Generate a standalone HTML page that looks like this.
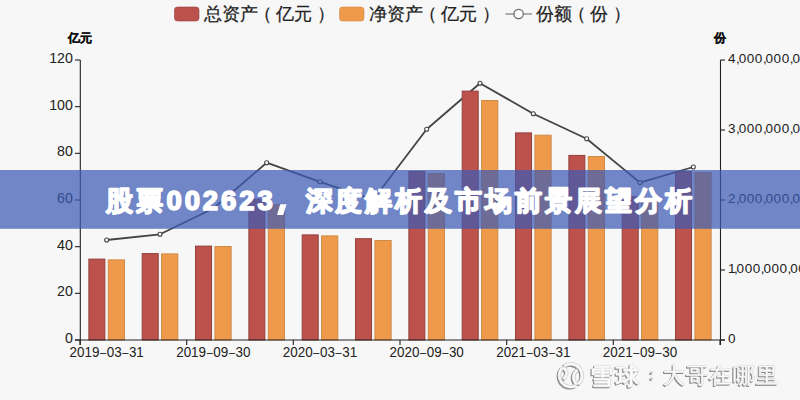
<!DOCTYPE html>
<html><head><meta charset="utf-8"><style>
html,body{margin:0;padding:0;width:800px;height:400px;overflow:hidden;background:#f7f7f7;}
svg{display:block;font-family:"Liberation Sans",sans-serif;}
</style></head><body>
<svg width="800" height="400" viewBox="0 0 800 400">
<rect x="0" y="0" width="800" height="400" fill="#f7f7f7"/>

<rect x="174.5" y="7" width="24.5" height="14" rx="3" fill="#bd524d" stroke="#94403c" stroke-width="0.6"/>
<g font-size="18" fill="#222" stroke="#222" stroke-width="0.25">
<text x="204" y="19.8">总资产<tspan dx="-4">（</tspan><tspan dx="4">亿元</tspan><tspan dx="4.5">）</tspan></text>
</g>
<rect x="339.5" y="7" width="24.5" height="14" rx="3" fill="#ef994a" stroke="#cf8a48" stroke-width="0.6"/>
<g font-size="18" fill="#222" stroke="#222" stroke-width="0.25">
<text x="369" y="19.8">净资产<tspan dx="-4">（</tspan><tspan dx="4">亿元</tspan><tspan dx="4.5">）</tspan></text>
<text x="536" y="19.8">份额<tspan dx="-4">（</tspan><tspan dx="4">份</tspan><tspan dx="4.5">）</tspan></text>
</g>
<line x1="505.5" y1="14" x2="532" y2="14" stroke="#9a9a9a" stroke-width="1.6"/>
<circle cx="518.6" cy="14" r="4.7" fill="#fff" stroke="#666" stroke-width="1.2"/>
<text x="68" y="42.3" font-size="12" font-weight="bold" fill="#111" stroke="#111" stroke-width="0.35">亿元</text>
<text x="714" y="42.3" font-size="12" font-weight="bold" fill="#111" stroke="#111" stroke-width="0.35">份</text>
<polyline points="106.67,240 160.00,234.3 213.33,208.5 266.67,162.7 320.00,181.8 373.33,199.5 426.67,129.3 480.00,83.2 533.33,113.75 586.67,138.75 640.00,182.6 693.33,167" fill="none" stroke="#444" stroke-width="1.8" stroke-linejoin="round"/>
<circle cx="106.67" cy="240" r="2" fill="#fff" stroke="#444" stroke-width="1.1"/>
<circle cx="160.00" cy="234.3" r="2" fill="#fff" stroke="#444" stroke-width="1.1"/>
<circle cx="213.33" cy="208.5" r="2" fill="#fff" stroke="#444" stroke-width="1.1"/>
<circle cx="266.67" cy="162.7" r="2" fill="#fff" stroke="#444" stroke-width="1.1"/>
<circle cx="320.00" cy="181.8" r="2" fill="#fff" stroke="#444" stroke-width="1.1"/>
<circle cx="373.33" cy="199.5" r="2" fill="#fff" stroke="#444" stroke-width="1.1"/>
<circle cx="426.67" cy="129.3" r="2" fill="#fff" stroke="#444" stroke-width="1.1"/>
<circle cx="480.00" cy="83.2" r="2" fill="#fff" stroke="#444" stroke-width="1.1"/>
<circle cx="533.33" cy="113.75" r="2" fill="#fff" stroke="#444" stroke-width="1.1"/>
<circle cx="586.67" cy="138.75" r="2" fill="#fff" stroke="#444" stroke-width="1.1"/>
<circle cx="640.00" cy="182.6" r="2" fill="#fff" stroke="#444" stroke-width="1.1"/>
<circle cx="693.33" cy="167" r="2" fill="#fff" stroke="#444" stroke-width="1.1"/>
<rect x="88.87" y="259.10" width="16" height="80.90" fill="#bd524d" stroke="#94403c" stroke-width="1"/>
<rect x="108.27" y="259.90" width="16.2" height="80.10" fill="#ef994a" stroke="#cf8a48" stroke-width="1"/>
<rect x="142.20" y="253.60" width="16" height="86.40" fill="#bd524d" stroke="#94403c" stroke-width="1"/>
<rect x="161.60" y="253.90" width="16.2" height="86.10" fill="#ef994a" stroke="#cf8a48" stroke-width="1"/>
<rect x="195.53" y="246.10" width="16" height="93.90" fill="#bd524d" stroke="#94403c" stroke-width="1"/>
<rect x="214.93" y="246.50" width="16.2" height="93.50" fill="#ef994a" stroke="#cf8a48" stroke-width="1"/>
<rect x="248.87" y="199.25" width="16" height="140.75" fill="#bd524d" stroke="#94403c" stroke-width="1"/>
<rect x="268.27" y="204.50" width="16.2" height="135.50" fill="#ef994a" stroke="#cf8a48" stroke-width="1"/>
<rect x="302.20" y="234.90" width="16" height="105.10" fill="#bd524d" stroke="#94403c" stroke-width="1"/>
<rect x="321.60" y="235.90" width="16.2" height="104.10" fill="#ef994a" stroke="#cf8a48" stroke-width="1"/>
<rect x="355.53" y="238.70" width="16" height="101.30" fill="#bd524d" stroke="#94403c" stroke-width="1"/>
<rect x="374.93" y="240.50" width="16.2" height="99.50" fill="#ef994a" stroke="#cf8a48" stroke-width="1"/>
<rect x="408.87" y="171.40" width="16" height="168.60" fill="#bd524d" stroke="#94403c" stroke-width="1"/>
<rect x="428.27" y="173.60" width="16.2" height="166.40" fill="#ef994a" stroke="#cf8a48" stroke-width="1"/>
<rect x="462.20" y="91.10" width="16" height="248.90" fill="#bd524d" stroke="#94403c" stroke-width="1"/>
<rect x="481.60" y="100.50" width="16.2" height="239.50" fill="#ef994a" stroke="#cf8a48" stroke-width="1"/>
<rect x="515.53" y="132.90" width="16" height="207.10" fill="#bd524d" stroke="#94403c" stroke-width="1"/>
<rect x="534.93" y="135.20" width="16.2" height="204.80" fill="#ef994a" stroke="#cf8a48" stroke-width="1"/>
<rect x="568.87" y="155.40" width="16" height="184.60" fill="#bd524d" stroke="#94403c" stroke-width="1"/>
<rect x="588.27" y="156.50" width="16.2" height="183.50" fill="#ef994a" stroke="#cf8a48" stroke-width="1"/>
<rect x="622.20" y="196.80" width="16" height="143.20" fill="#bd524d" stroke="#94403c" stroke-width="1"/>
<rect x="641.60" y="200.00" width="16.2" height="140.00" fill="#ef994a" stroke="#cf8a48" stroke-width="1"/>
<rect x="675.53" y="171.60" width="16" height="168.40" fill="#bd524d" stroke="#94403c" stroke-width="1"/>
<rect x="694.93" y="172.50" width="16.2" height="167.50" fill="#ef994a" stroke="#cf8a48" stroke-width="1"/>
<g stroke="#222" stroke-width="1.1" fill="none">
<line x1="80.3" y1="60" x2="80.3" y2="345"/>
<line x1="720.5" y1="60" x2="720.5" y2="345"/>
<line x1="75" y1="340" x2="725" y2="340"/>
<line x1="75" y1="60.00" x2="80.3" y2="60.00"/>
<line x1="75" y1="106.67" x2="80.3" y2="106.67"/>
<line x1="75" y1="153.33" x2="80.3" y2="153.33"/>
<line x1="75" y1="200.00" x2="80.3" y2="200.00"/>
<line x1="75" y1="246.67" x2="80.3" y2="246.67"/>
<line x1="75" y1="293.33" x2="80.3" y2="293.33"/>
<line x1="75" y1="340.00" x2="80.3" y2="340.00"/>
<line x1="720.5" y1="60.00" x2="725" y2="60.00"/>
<line x1="720.5" y1="130.00" x2="725" y2="130.00"/>
<line x1="720.5" y1="200.00" x2="725" y2="200.00"/>
<line x1="720.5" y1="270.00" x2="725" y2="270.00"/>
<line x1="720.5" y1="340.00" x2="725" y2="340.00"/>
<line x1="80.00" y1="340" x2="80.00" y2="345"/>
<line x1="186.67" y1="340" x2="186.67" y2="345"/>
<line x1="293.33" y1="340" x2="293.33" y2="345"/>
<line x1="400.00" y1="340" x2="400.00" y2="345"/>
<line x1="506.67" y1="340" x2="506.67" y2="345"/>
<line x1="613.33" y1="340" x2="613.33" y2="345"/>
<line x1="720.00" y1="340" x2="720.00" y2="345"/>
</g>
<g font-size="14.2" fill="#222" text-anchor="end">
<text x="72.8" y="63.10">120</text>
<text x="72.8" y="109.77">100</text>
<text x="72.8" y="156.43">80</text>
<text x="72.8" y="203.10">60</text>
<text x="72.8" y="249.77">40</text>
<text x="72.8" y="296.43">20</text>
<text x="72.8" y="343.10">0</text>
</g>
<g font-size="13.5" fill="#222">
<text x="728" y="62.60" letter-spacing="0.55">4<tspan letter-spacing="-1.1">,</tspan>000<tspan letter-spacing="-1.1">,</tspan>000<tspan letter-spacing="-1.1">,</tspan>000</text>
<text x="728" y="132.60" letter-spacing="0.55">3<tspan letter-spacing="-1.1">,</tspan>000<tspan letter-spacing="-1.1">,</tspan>000<tspan letter-spacing="-1.1">,</tspan>000</text>
<text x="728" y="202.60" letter-spacing="0.55">2<tspan letter-spacing="-1.1">,</tspan>000<tspan letter-spacing="-1.1">,</tspan>000<tspan letter-spacing="-1.1">,</tspan>000</text>
<text x="728" y="272.60" letter-spacing="0.55"><tspan letter-spacing="-1.6">1</tspan><tspan letter-spacing="-1.1">,</tspan>000<tspan letter-spacing="-1.1">,</tspan>000<tspan letter-spacing="-1.1">,</tspan>000</text>
<text x="728" y="342.60" letter-spacing="0.55">0</text>
</g>
<g font-size="14" fill="#222" text-anchor="middle">
<text transform="translate(106.67,0) scale(0.96,1)" x="0" y="356.9" letter-spacing="0">2019<tspan dx="0.9" dy="-1.1" font-size="10.4" stroke="#222" stroke-width="0.35">–</tspan><tspan dx="0.9" dy="1.1">03</tspan><tspan dx="0.9" dy="-1.1" font-size="10.4" stroke="#222" stroke-width="0.35">–</tspan><tspan dx="0.9" dy="1.1">31</tspan></text>
<text transform="translate(213.33,0) scale(0.96,1)" x="0" y="356.9" letter-spacing="0">2019<tspan dx="0.9" dy="-1.1" font-size="10.4" stroke="#222" stroke-width="0.35">–</tspan><tspan dx="0.9" dy="1.1">09</tspan><tspan dx="0.9" dy="-1.1" font-size="10.4" stroke="#222" stroke-width="0.35">–</tspan><tspan dx="0.9" dy="1.1">30</tspan></text>
<text transform="translate(320.00,0) scale(0.96,1)" x="0" y="356.9" letter-spacing="0">2020<tspan dx="0.9" dy="-1.1" font-size="10.4" stroke="#222" stroke-width="0.35">–</tspan><tspan dx="0.9" dy="1.1">03</tspan><tspan dx="0.9" dy="-1.1" font-size="10.4" stroke="#222" stroke-width="0.35">–</tspan><tspan dx="0.9" dy="1.1">31</tspan></text>
<text transform="translate(426.67,0) scale(0.96,1)" x="0" y="356.9" letter-spacing="0">2020<tspan dx="0.9" dy="-1.1" font-size="10.4" stroke="#222" stroke-width="0.35">–</tspan><tspan dx="0.9" dy="1.1">09</tspan><tspan dx="0.9" dy="-1.1" font-size="10.4" stroke="#222" stroke-width="0.35">–</tspan><tspan dx="0.9" dy="1.1">30</tspan></text>
<text transform="translate(533.33,0) scale(0.96,1)" x="0" y="356.9" letter-spacing="0">2021<tspan dx="0.9" dy="-1.1" font-size="10.4" stroke="#222" stroke-width="0.35">–</tspan><tspan dx="0.9" dy="1.1">03</tspan><tspan dx="0.9" dy="-1.1" font-size="10.4" stroke="#222" stroke-width="0.35">–</tspan><tspan dx="0.9" dy="1.1">31</tspan></text>
<text transform="translate(640.00,0) scale(0.96,1)" x="0" y="356.9" letter-spacing="0">2021<tspan dx="0.9" dy="-1.1" font-size="10.4" stroke="#222" stroke-width="0.35">–</tspan><tspan dx="0.9" dy="1.1">09</tspan><tspan dx="0.9" dy="-1.1" font-size="10.4" stroke="#222" stroke-width="0.35">–</tspan><tspan dx="0.9" dy="1.1">30</tspan></text>
</g>
<rect x="0" y="170" width="800" height="58.8" fill="rgb(60,90,180)" fill-opacity="0.72"/>
<g font-size="27.4" font-weight="bold" fill="#fff" stroke="#fff" stroke-width="1.7" stroke-linejoin="round">
<text x="106" y="210" letter-spacing="3">股票</text>
<text x="166.5" y="210" letter-spacing="2.95">002623</text>
<polygon points="280.2,204.2 286.6,204.2 283.2,215 277,215" stroke="none"/>
<text x="305.5" y="210" letter-spacing="2.96">深度解析及市场前景展望分析</text>
</g>
<g style="filter:drop-shadow(-0.3px 1px 0.5px rgba(0,0,0,0.45))">
<g fill="none" stroke="#cdcdcd" stroke-width="3.6" stroke-linecap="butt">
<path d="M564.16,366.06 A11.4,11.4 0 0 1 578.03,384.13"/><path d="M575.52,385.73 A11.4,11.4 0 0 1 561.97,368.07"/>
<path d="M562.5,367.5 Q570.5,371.5 563.3,379.3"/><path d="M577.5,370 Q570,376 576.8,384.8"/>
</g>
<g fill="none" stroke="#fafafa" stroke-width="2.2" stroke-linecap="butt">
<path d="M564.16,366.06 A11.4,11.4 0 0 1 578.03,384.13"/><path d="M575.52,385.73 A11.4,11.4 0 0 1 561.97,368.07"/>
<path d="M562.5,367.5 Q570.5,371.5 563.3,379.3"/><path d="M577.5,370 Q570,376 576.8,384.8"/>
</g>
<g fill="#fafafa" stroke="#d0d0d0" stroke-width="0.9" paint-order="stroke" stroke-linejoin="round">
<text x="590" y="383.5" font-size="22.5" font-weight="bold" letter-spacing="2" textLength="51" lengthAdjust="spacingAndGlyphs">雪球</text>
<text x="663" y="383" font-size="22" letter-spacing="1.2">大哥在哪里</text>
</g>
<circle cx="651.5" cy="372.8" r="1.3" fill="#c4c4c4"/><circle cx="651.5" cy="378.8" r="1.3" fill="#c4c4c4"/>
</g>
</svg></body></html>
